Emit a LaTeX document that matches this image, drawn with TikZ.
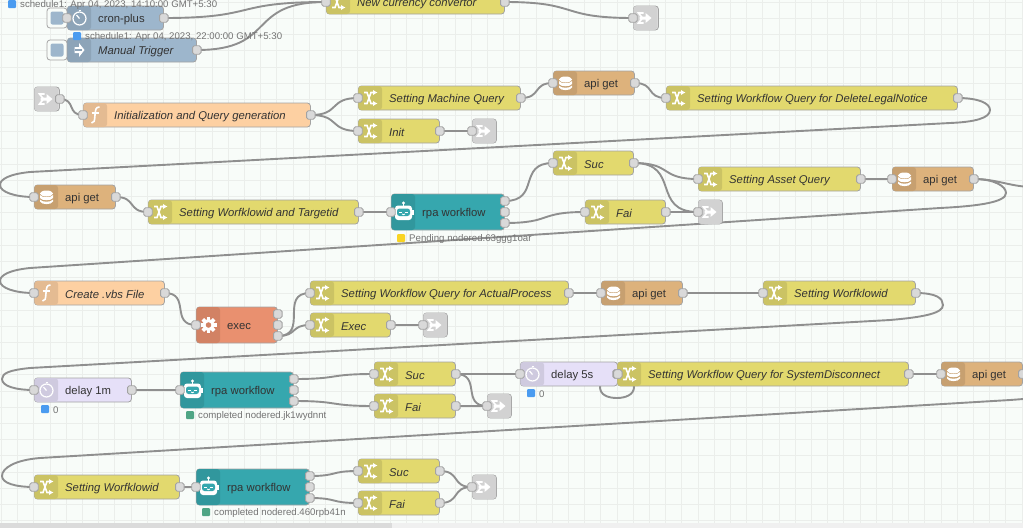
\documentclass[tikz,border=0pt]{standalone}
\usepackage{fontspec}
\setmainfont{Liberation Sans}
\usetikzlibrary{calc,backgrounds,arrows.meta}

\definecolor{canvas}{HTML}{F8FCF9}
\definecolor{gridcol}{HTML}{EBEEEB}
\definecolor{wirecol}{HTML}{8F8F8F}
\definecolor{portcol}{HTML}{D9D9D9}
\definecolor{edgecol}{HTML}{A3A3A3}
\definecolor{changefill}{HTML}{E2D96E}
\definecolor{changeband}{HTML}{CBC364}
\definecolor{funcfill}{HTML}{FDD0A2}
\definecolor{funcband}{HTML}{E4BB92}
\definecolor{dbfill}{HTML}{DDB27C}
\definecolor{dbband}{HTML}{C7A070}
\definecolor{rpafill}{HTML}{36A7AE}
\definecolor{rpaband}{HTML}{31979D}
\definecolor{execfill}{HTML}{E9906F}
\definecolor{execband}{HTML}{D28264}
\definecolor{injfill}{HTML}{9DB6CC}
\definecolor{injband}{HTML}{8DA4B8}
\definecolor{delayfill}{HTML}{E6E0F8}
\definecolor{delayband}{HTML}{CFCADF}
\definecolor{linkfill}{HTML}{DCDCDC}
\definecolor{linkband}{HTML}{D2D2D2}
\definecolor{stblue}{HTML}{4A9BF0}
\definecolor{styellow}{HTML}{F9D423}
\definecolor{stgreen}{HTML}{4FA585}

\tikzset{
	flowbox/.style={draw=edgecol,line width=0.8pt,rounded corners=3pt,anchor=west,inner sep=0pt},
	flowtext/.style={anchor=west,inner sep=0pt,font=\fontsize{11.3}{13}\selectfont,text=black!80},
	statustext/.style={anchor=west,inner sep=0pt,font=\fontsize{9.65}{11}\selectfont,text=black!55},
	port/.style={draw=edgecol,fill=portcol,line width=0.9pt,rounded corners=1.8pt,minimum size=8.5pt,inner sep=0pt},
	wire/.style={draw=wirecol,line width=1.9pt},
	iconline/.style={draw=white,line width=1.6pt},
	iconhead/.style={-{Latex[length=4.5pt,width=5.5pt]}},
	statusbox/.style={rounded corners=1pt,minimum size=8pt,inner sep=0pt},
}

% #1 name, #2 x, #3 y, #4 width, #5 height, #6 colour, #7 icon, #8 label
\newcommand{\flownode}[8]{
	\node[flowbox,fill=#6fill,minimum width=#4pt,minimum height=#5pt] (#1) at (#2,#3) {};
	\fill[#6band,rounded corners=3pt] ($(#1.south west)+(0.4,-0.4)$) -- ($(#1.north west)+(0.4,0.4)$) -- ($(#1.north west)+(24,0.4)$) -- ($(#1.south west)+(24,-0.4)$) -- cycle;
	\begin{scope}[shift={($(#1.west)+(12.5,0)$)}]
		#7
	\end{scope}
	\node[flowtext] (#1-txt) at ($(#1.west)+(31,1.5)$) {#8};
}
% #1 name, #2 x, #3 y, #4 colour, #5 text
\newcommand{\flowstatus}[5]{
	\node[statusbox,fill=#4] (#1) at (#2,#3) {};
	\node[statustext] (#1-txt) at ($(#1.center)+(8,1)$) {#5};
}

\newcommand{\iconchange}{
	\draw[iconline,iconhead] (-6.5,-5.5) -- (-3.5,-5.5) -- (0.5,5.5) -- (7,5.5);
	\draw[iconline,iconhead] (-6.5,5.5) -- (-3.5,5.5) -- (0.5,-5.5) -- (7,-5.5);
}
\newcommand{\iconfunc}{
	\draw[iconline] (4,-8) .. controls (0,-8) and (0,-5) .. (-0.5,0) .. controls (-1,6) and (-1,8) .. (-4,8);
	\draw[iconline] (-4,-2) -- (3,-2);
}
\newcommand{\icondb}{
	\fill[white] (0,-3.5) ellipse (6.5 and 3);
	\fill[white] (-6.5,-2) .. controls (-5,1) and (5,1) .. (6.5,-2) -- (6.5,1) .. controls (5,4) and (-5,4) .. (-6.5,1) -- cycle;
	\fill[white] (-6.5,2.5) .. controls (-5,5.5) and (5,5.5) .. (6.5,2.5) -- (6.5,4.5) .. controls (5,8) and (-5,8) .. (-6.5,4.5) -- cycle;
}
\newcommand{\iconlink}{
	\draw[iconline] (-2,-5) -- (-7,-5) -- (-3,0) -- (-7,5) -- (-2,5);
	\fill[white] (-6,-1.5) -- (0,-1.5) -- (0,-5) -- (6,0) -- (0,5) -- (0,1.5) -- (-6,1.5) -- cycle;
}
\newcommand{\icontimer}{
	\draw[iconline,line width=1.2pt] (0,0.5) circle (6.5pt);
	\draw[iconline,line width=1.2pt] (0,0.5) -- (-3,-3);
	\draw[iconline,line width=1.2pt] (-1,-7.5) -- (1,-7.5);
}
\newcommand{\iconinject}{
	\fill[white] (-5,-3) -- (-0.5,-3) -- (-0.5,-7) -- (5,0) -- (-0.5,7) -- (-0.5,3) -- (-5,3) -- cycle;
	\fill[injband] (-5,-0.7) rectangle (2,0.7);
}
\newcommand{\icongear}{
	\foreach \ang in {0,45,...,315}
		\fill[white,rotate=\ang] (-1.8,-8) rectangle (1.8,-4);
	\draw[draw=white,line width=3pt] (0,0) circle (4.5pt);
}
\newcommand{\iconrobot}{
	\fill[white] (0,-9) circle (1.7pt);
	\draw[white,line width=1pt] (0,-9) -- (0,-6);
	\fill[white] (-10,-2) rectangle (10,3);
	\fill[white,rounded corners=3pt] (-8.5,-6.5) rectangle (8.5,8);
	\fill[rpafill,rounded corners=2.5pt] (-6.5,-3.5) rectangle (6.5,4);
	\draw[white,line width=1pt] (-4.5,0) -- (-1.8,0) (1.8,0) -- (4.5,0);
	\draw[white,line width=0.8pt] (-1.5,2) .. controls (-0.5,3) and (0.5,3) .. (1.5,2);
}
\newcommand{\injectbtn}[3]{
	\node[draw=edgecol,fill=canvas,rounded corners=3pt,line width=0.8pt,minimum width=20pt,minimum height=20pt,inner sep=0pt] (#1) at (#2,#3) {};
	\node[fill=injfill,rounded corners=2pt,minimum size=13pt,inner sep=0pt] (#1-fill) at (#2,#3) {};
}

\begin{document}
\begin{tikzpicture}[x=1pt,y=-1pt]
	\useasboundingbox (0,0) rectangle (1023,528);
	\clip (0,0) rectangle (1023,528);

	\injectbtn{cronbtn}{57}{18}
	\injectbtn{manualbtn}{57}{50}

	\flownode{cron}{67}{18}{96}{24}{inj}{\icontimer}{cron-plus}
	\flownode{manual}{67}{50}{129}{24}{inj}{\iconinject}{\itshape Manual Trigger}
	\flownode{currency}{326}{2}{178}{24}{change}{\iconchange}{\itshape New currency convertor}
	\flownode{linktop}{633}{18}{25}{24}{link}{\iconlink}{}

	\flownode{linkstart}{34}{99}{25}{24}{link}{\iconlink}{}
	\flownode{initquery}{83}{115}{227}{24}{func}{\iconfunc}{\itshape Initialization and Query generation}
	\flownode{machine}{358}{98}{162}{24}{change}{\iconchange}{\itshape Setting Machine Query}
	\flownode{init}{358}{131}{81}{24}{change}{\iconchange}{\itshape Init}
	\flownode{linkinit}{472}{131}{24}{24}{link}{\iconlink}{}
	\flownode{apia}{553}{83}{81}{24}{db}{\icondb}{api get}
	\flownode{legal}{666}{98}{291}{24}{change}{\iconchange}{\itshape Setting Workflow Query for DeleteLegalNotice}

	\flownode{apib}{34}{197}{81}{24}{db}{\icondb}{api get}
	\flownode{target}{148}{212}{210}{24}{change}{\iconchange}{\itshape Setting Worfklowid and Targetid}
	\flownode{rpaa}{391}{212}{113}{36}{rpa}{\iconrobot}{rpa workflow}
	\flownode{suca}{553}{163}{80}{24}{change}{\iconchange}{\itshape Suc}
	\flownode{faia}{585}{212}{80}{24}{change}{\iconchange}{\itshape Fai}
	\flownode{linka}{698}{212}{24}{24}{link}{\iconlink}{}
	\flownode{asset}{698}{179}{162}{24}{change}{\iconchange}{\itshape Setting Asset Query}
	\flownode{apic}{892}{179}{81}{24}{db}{\icondb}{api get}

	\flownode{vbs}{34}{293}{130}{24}{func}{\iconfunc}{\itshape Create .vbs File}
	\flownode{exec}{196}{325}{81}{36}{exec}{\icongear}{exec}
	\flownode{actual}{310}{293}{258}{24}{change}{\iconchange}{\itshape Setting Workflow Query for ActualProcess}
	\flownode{execres}{310}{325}{80}{24}{change}{\iconchange}{\itshape Exec}
	\flownode{linkexec}{423}{325}{24}{24}{link}{\iconlink}{}
	\flownode{apid}{601}{293}{81}{24}{db}{\icondb}{api get}
	\flownode{workida}{763}{293}{152}{24}{change}{\iconchange}{\itshape Setting Worfklowid}

	\flownode{delaym}{34}{390}{97}{24}{delay}{\icontimer}{delay 1m}
	\flownode{rpab}{180}{390}{113}{36}{rpa}{\iconrobot}{rpa workflow}
	\flownode{sucb}{374}{374}{81}{24}{change}{\iconchange}{\itshape Suc}
	\flownode{faib}{374}{406}{81}{24}{change}{\iconchange}{\itshape Fai}
	\flownode{linkb}{487}{406}{24}{24}{link}{\iconlink}{}
	\flownode{delays}{520}{374}{97}{24}{delay}{\icontimer}{delay 5s}
	\flownode{disconnect}{617}{374}{291}{24}{change}{\iconchange}{\itshape Setting Workflow Query for SystemDisconnect}
	\flownode{apie}{941}{374}{81}{24}{db}{\icondb}{api get}

	\flownode{workidb}{34}{487}{145}{24}{change}{\iconchange}{\itshape Setting Worfklowid}
	\flownode{rpac}{196}{487}{113}{36}{rpa}{\iconrobot}{rpa workflow}
	\flownode{succ}{358}{471}{81}{24}{change}{\iconchange}{\itshape Suc}
	\flownode{faic}{358}{503}{81}{24}{change}{\iconchange}{\itshape Fai}
	\flownode{linkc}{472}{487}{24}{24}{link}{\iconlink}{}

	\foreach \n in {cron,currency,linktop,initquery,machine,init,linkinit,apia,legal,apib,target,rpaa,suca,faia,linka,asset,apic,vbs,exec,actual,execres,linkexec,apid,workida,delaym,rpab,sucb,faib,linkb,delays,disconnect,apie,workidb,rpac,succ,faic,linkc}
		\node[port] (\n-in) at (\n.west) {};
	\foreach \n in {cron,manual,currency,linkstart,initquery,machine,init,apia,legal,apib,target,suca,faia,asset,apic,vbs,actual,execres,apid,workida,delaym,sucb,faib,delays,disconnect,apie,workidb,succ,faic}
		\node[port] (\n-out) at (\n.east) {};
	\foreach \n in {rpaa,exec,rpab,rpac} {
		\node[port] (\n-oa) at ($(\n.east)+(0,-11)$) {};
		\node[port] (\n-ob) at (\n.east) {};
		\node[port] (\n-oc) at ($(\n.east)+(0,11)$) {};
	}

	\flowstatus{stcrontop}{12}{4}{stblue}{schedule1: Apr 04, 2023, 14:10:00 GMT+5:30}
	\flowstatus{stmanual}{77}{36}{stblue}{schedule1: Apr 04, 2023, 22:00:00 GMT+5:30}
	\flowstatus{strpaa}{401}{238}{styellow}{Pending nodered.63ggg1oar}
	\flowstatus{stdelaym}{45}{409}{stblue}{0}
	\flowstatus{strpab}{190}{415}{stgreen}{completed nodered.jk1wydnnt}
	\flowstatus{stdelays}{531}{393}{stblue}{0}
	\flowstatus{strpac}{206}{512}{stgreen}{completed nodered.460rpb41n}

	\coordinate (rightedge) at (1034,187);

	\begin{scope}[on background layer]
		\fill[canvas] (0,0) rectangle (1023,528);
		\foreach \gx in {0,...,63}
			\draw[gridcol,line width=0.9pt] ({1.5+16.2*\gx},0) -- ({1.5+16.2*\gx},528);
		\foreach \gy in {0,...,32}
			\draw[gridcol,line width=0.9pt] (0,{2.2+16.2*\gy}) -- (1023,{2.2+16.2*\gy});
		\fill[black!6] (0,523) rectangle (1023,528);
		\fill[black!14] (0,523) rectangle (392,528);

		\foreach \a/\b in {cron-out/currency-in,manual-out/currency-in,currency-out/linktop-in,
			linkstart-out/initquery-in,initquery-out/machine-in,initquery-out/init-in,init-out/linkinit-in,
			machine-out/apia-in,apia-out/legal-in,apib-out/target-in,target-out/rpaa-in,
			rpaa-oa/suca-in,rpaa-oc/faia-in,suca-out/asset-in,suca-out/linka-in,faia-out/linka-in,asset-out/apic-in,
			vbs-out/exec-in,exec-oc/actual-in,exec-oc/execres-in,execres-out/linkexec-in,actual-out/apid-in,apid-out/workida-in,
			delaym-out/rpab-in,rpab-oa/sucb-in,rpab-oc/faib-in,sucb-out/delays-in,sucb-out/linkb-in,faib-out/linkb-in,disconnect-out/apie-in,
			workidb-out/rpac-in,rpac-oa/succ-in,rpac-oc/faic-in,succ-out/linkc-in,faic-out/linkc-in}
			\draw[wire] (\a.center) to[out=0,in=180,looseness=1.5] (\b.center);

		\draw[wire] (apic-out.center) to[out=0,in=180] (rightedge);
		\draw[wire] (delays-out.center) .. controls +(14,0) and (634,380) .. (634,387) .. controls (634,395) and (625,398) .. (617,398) .. controls (608,398) and (600,395) .. (600,387) .. controls (600,380) and (605,374) .. (disconnect-in.center);

		\draw[wire] (legal-out.center) .. controls +(20,0) and (990,103) .. (990,110) .. controls (990,118) and (975,122) .. (950,123) -- (30,172) .. controls (10,174) and (0,179) .. (0,185) .. controls (0,192) and (15,197) .. (apib-in.center);
		\draw[wire] (apic-out.center) .. controls +(20,0) and (1006,186) .. (1006,193) .. controls (1006,202) and (980,206) .. (940,208) -- (30,268) .. controls (10,270) and (0,275) .. (0,281) .. controls (0,288) and (15,293) .. (vbs-in.center);
		\draw[wire] (workida-out.center) .. controls +(20,0) and (943,298) .. (943,305) .. controls (943,313) and (925,317) .. (890,320) -- (30,368) .. controls (10,370) and (2,373) .. (2,379) .. controls (2,386) and (15,390) .. (delaym-in.center);
		\draw[wire] (apie-out.center) .. controls +(30,0) and (1060,380) .. (1060,388) .. controls (1060,395) and (1040,398) .. (1010,400) -- (40,458) .. controls (15,460) and (2,468) .. (2,476) .. controls (2,483) and (15,487) .. (workidb-in.center);
	\end{scope}
\end{tikzpicture}
\end{document}
